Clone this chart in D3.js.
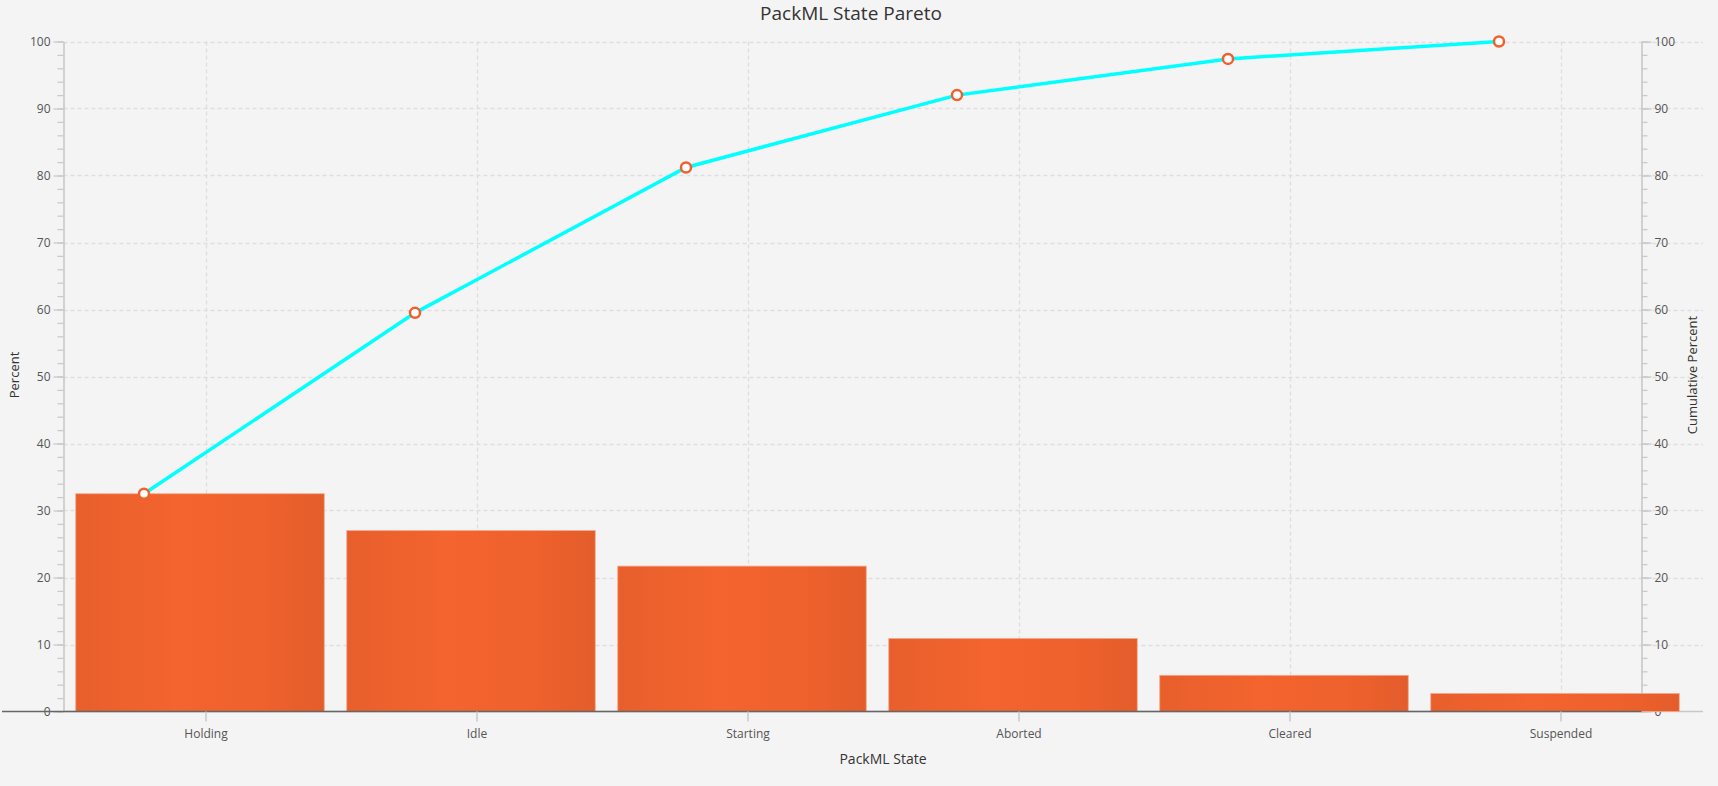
<!DOCTYPE html>
<meta charset="utf-8">
<style>
    html, body {
        margin: 0;
        padding: 0;
        background: #f4f4f4;
    }
    svg text {
        font-family: "Open Sans", "Noto Sans", sans-serif;
    }
</style>
<body>
<svg id="pareto" width="1718" height="786"></svg>

<script src="https://cdnjs.cloudflare.com/ajax/libs/d3/7.8.5/d3.min.js"></script>
<script>
  // values
  var categories = ["Holding", "Idle", "Starting", "Aborted", "Cleared", "Suspended"];
  var percent = [32.5, 27.0, 21.7, 10.9, 5.4, 2.7];
  var cumulative = [32.5, 59.5, 81.2, 92.0, 97.4, 100];
  var yTicks = [0, 10, 20, 30, 40, 50, 60, 70, 80, 90, 100];

  var svg = d3.select("#pareto");

  // note: "top" is taken by window.top, so plot edges get their own names
  var plotTop = 41.5, plotBottom = 711.5;
  var plotLeft = 63.5, plotRight = 1641.5, plotEnd = 1703;

  var y = d3.scaleLinear().domain([0, 100]).range([plotBottom, plotTop]);
  // category axis (tick marks / vertical grid)
  var x = d3.scaleBand().domain(categories).range([70.5, 1696.5]);
  // bars sit a little left of the category ticks, as in the original
  var xBar = d3.scaleBand().domain(categories).range([64.5, 1690.5])
    .paddingInner(0.083).paddingOuter(0.0415);
  // the cumulative line series is drawn on its own, shifted category scale
  var xLine = d3.scalePoint().domain(categories).range([144, 1499]);

  var defs = svg.append("defs");
  var grad = defs.append("linearGradient").attr("id", "barGrad")
    .attr("x1", "0%").attr("x2", "100%").attr("y1", "0%").attr("y2", "0%");
  grad.append("stop").attr("offset", "0%").attr("stop-color", "#e85f2c");
  grad.append("stop").attr("offset", "40%").attr("stop-color", "#f3642e");
  grad.append("stop").attr("offset", "75%").attr("stop-color", "#ef612d");
  grad.append("stop").attr("offset", "100%").attr("stop-color", "#e35d2b");

  // title
  svg.append("text")
    .attr("x", 851).attr("y", 20)
    .attr("text-anchor", "middle")
    .attr("font-size", 19)
    .attr("fill", "#333")
    .text("PackML State Pareto");

  // horizontal grid
  svg.append("g").selectAll("line")
    .data(yTicks.filter(function (d) { return d > 0; }))
    .enter().append("line")
    .attr("x1", plotLeft).attr("x2", plotEnd)
    .attr("y1", function (d) { return Math.round(y(d)) + 0.5; })
    .attr("y2", function (d) { return Math.round(y(d)) + 0.5; })
    .attr("stroke", "#dedede")
    .attr("stroke-width", 1.3)
    .attr("stroke-dasharray", "4,3");

  // vertical grid
  svg.append("g").selectAll("line")
    .data(categories)
    .enter().append("line")
    .attr("x1", function (d) { return Math.round(x(d) + x.bandwidth() / 2) + 0.5; })
    .attr("x2", function (d) { return Math.round(x(d) + x.bandwidth() / 2) + 0.5; })
    .attr("y1", plotTop).attr("y2", plotBottom)
    .attr("stroke", "#dedede")
    .attr("stroke-width", 1.3)
    .attr("stroke-dasharray", "4,3");

  // bottom axis (light part)
  svg.append("line")
    .attr("x1", plotLeft).attr("x2", plotEnd)
    .attr("y1", plotBottom).attr("y2", plotBottom)
    .attr("stroke", "#c8c8c8").attr("stroke-width", 1.5);

  // left axis
  var leftAxis = svg.append("g").attr("transform", "translate(" + plotLeft + ",0)");
  leftAxis.call(d3.axisLeft(y).tickValues(d3.range(0, 101, 2)).tickSize(6).tickSizeOuter(0).tickFormat(""));
  leftAxis.call(function (g) {
    g.selectAll(".tick line").attr("stroke", "#cacaca").attr("stroke-width", 1.3);
    g.select(".domain").attr("stroke", "#c8c8c8").attr("stroke-width", 1.6);
  });
  var leftMajor = svg.append("g").attr("transform", "translate(" + plotLeft + ",0)");
  leftMajor.call(d3.axisLeft(y).tickValues(yTicks).tickSize(10).tickPadding(3));
  leftMajor.call(function (g) {
    g.select(".domain").remove();
    g.selectAll(".tick line").attr("stroke", "#cacaca").attr("stroke-width", 1.3);
    g.selectAll(".tick text").attr("fill", "#555").attr("font-size", 12);
  });

  // right axis
  var rightAxis = svg.append("g").attr("transform", "translate(" + plotRight + ",0)");
  rightAxis.call(d3.axisRight(y).tickValues(d3.range(0, 101, 2)).tickSize(6).tickSizeOuter(0).tickFormat(""));
  rightAxis.call(function (g) {
    g.selectAll(".tick line").attr("stroke", "#cacaca").attr("stroke-width", 1.3);
    g.select(".domain").attr("stroke", "#c8c8c8").attr("stroke-width", 1.6);
  });
  var rightMajor = svg.append("g").attr("transform", "translate(" + plotRight + ",0)");
  rightMajor.call(d3.axisRight(y).tickValues(yTicks).tickSize(10).tickPadding(3));
  rightMajor.call(function (g) {
    g.select(".domain").remove();
    g.selectAll(".tick line").attr("stroke", "#cacaca").attr("stroke-width", 1.3);
    g.selectAll(".tick text").attr("fill", "#555").attr("font-size", 12);
  });

  // bars
  svg.append("g").selectAll("rect")
    .data(percent)
    .enter().append("rect")
    .attr("x", function (d, i) { return xBar(categories[i]); })
    .attr("width", xBar.bandwidth())
    .attr("y", function (d) { return y(d); })
    .attr("height", function (d) { return plotBottom - y(d); })
    .attr("fill", "url(#barGrad)")
    .attr("stroke", "#f6a88c")
    .attr("stroke-width", 0.8);

  // dark baseline
  svg.append("line")
    .attr("x1", 2).attr("x2", plotRight)
    .attr("y1", plotBottom).attr("y2", plotBottom)
    .attr("stroke", "#666").attr("stroke-width", 1.4);

  // bottom category axis
  var xAxis = svg.append("g").attr("transform", "translate(0," + plotBottom + ")");
  xAxis.call(d3.axisBottom(x).tickSize(10).tickPadding(8));
  xAxis.call(function (g) {
    g.select(".domain").remove();
    g.selectAll(".tick line").attr("stroke", "#cacaca").attr("stroke-width", 1.5);
    g.selectAll(".tick text").attr("fill", "#555").attr("font-size", 12);
  });

  // cumulative line
  var line = d3.line()
    .x(function (d, i) { return xLine(categories[i]); })
    .y(function (d) { return y(d); });

  svg.append("path")
    .datum(cumulative)
    .attr("d", line)
    .attr("fill", "none")
    .attr("stroke", "#00ffff")
    .attr("stroke-width", 3.5);

  svg.append("g").selectAll("circle")
    .data(cumulative)
    .enter().append("circle")
    .attr("cx", function (d, i) { return xLine(categories[i]); })
    .attr("cy", function (d) { return y(d); })
    .attr("r", 5)
    .attr("fill", "#fff")
    .attr("stroke", "#f0602c")
    .attr("stroke-width", 2.5);

  // axis titles
  svg.append("text")
    .attr("x", 883).attr("y", 764)
    .attr("text-anchor", "middle")
    .attr("font-size", 14)
    .attr("fill", "#333")
    .text("PackML State");

  svg.append("text")
    .attr("transform", "translate(19,375) rotate(-90)")
    .attr("text-anchor", "middle")
    .attr("font-size", 13)
    .attr("fill", "#333")
    .text("Percent");

  svg.append("text")
    .attr("transform", "translate(1697,375) rotate(-90)")
    .attr("text-anchor", "middle")
    .attr("font-size", 13)
    .attr("fill", "#333")
    .text("Cumulative Percent");
</script>
